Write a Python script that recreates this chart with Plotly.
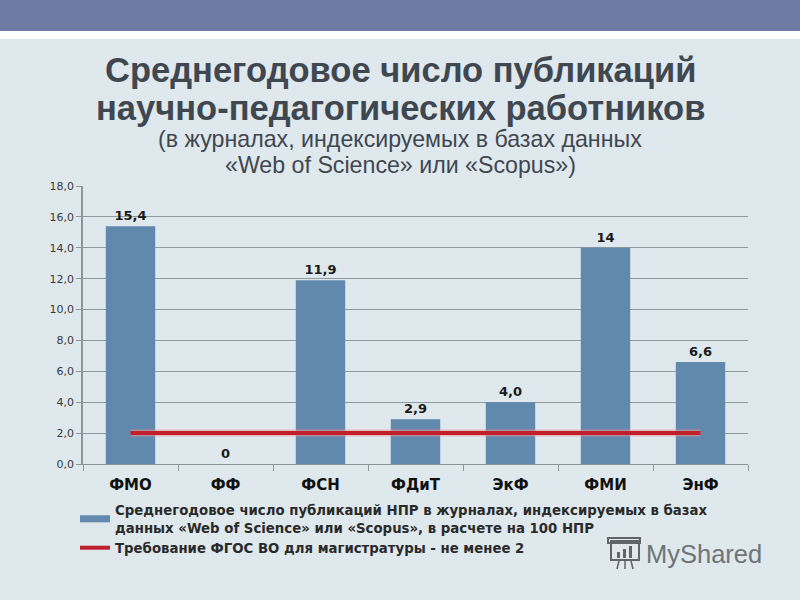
import plotly.graph_objects as go

# данные
faculties = ["ФМО", "ФФ", "ФСН", "ФДиТ", "ЭкФ", "ФМИ", "ЭнФ"]
publications = [15.4, 0, 11.9, 2.9, 4.0, 14, 6.6]
bar_labels = ["15,4", "0", "11,9", "2,9", "4,0", "14", "6,6"]
requirement = [2, 2, 2, 2, 2, 2, 2]
y_ticks = [0, 2, 4, 6, 8, 10, 12, 14, 16, 18]
y_tick_labels = ["0,0", "2,0", "4,0", "6,0", "8,0", "10,0", "12,0", "14,0", "16,0", "18,0"]

bar_name = ("<b>Среднегодовое число публикаций НПР в журналах, индексируемых в базах<br>"
            "данных «Web of Science» или «Scopus», в расчете на 100 НПР</b>")
line_name = "<b>Требование ФГОС ВО для магистратуры - не менее 2</b>"

W, H = 800, 600
L, R, T, B = 83, 52, 186, 136
BAR_COLOR = "#6089ad"
TITLE_COLOR = "#3f4750"
ICON_COLOR = "#5f6569"


def py(pixel):
    # пиксель от верха страницы -> координата paper
    return 1 - (pixel - T) / (H - T - B)


def px_(pixel):
    return (pixel - L) / (W - L - R)


def box(x0, y0, x1, y1, **style):
    return dict(type="rect", xref="paper", yref="paper", x0=px_(x0), x1=px_(x1), y0=py(y0), y1=py(y1),
                layer="below", **style)


def stroke(x0, y0, x1, y1):
    return dict(type="line", xref="paper", yref="paper", x0=px_(x0), x1=px_(x1), y0=py(y0), y1=py(y1),
                layer="below", line=dict(color=ICON_COLOR, width=1.5))


def title_line(text, y, size, x=400, color=TITLE_COLOR):
    return dict(text=text, x=px_(x), y=py(y), xref="paper", yref="paper", xanchor="center", yanchor="middle",
                showarrow=False, font=dict(size=size, family="Liberation Sans", color=color))


fig = go.Figure()
fig.add_trace(go.Bar(x=faculties, y=publications, showlegend=False, marker_color=BAR_COLOR,
                     marker_line_width=0, text=bar_labels, textposition="outside", cliponaxis=False,
                     textfont=dict(family="DejaVu Sans", size=13, color="#1a1a1a", weight="bold")))
# пустой след только ради широкой плашки в легенде
fig.add_trace(go.Scatter(x=[None], y=[None], mode="lines", name=bar_name,
                         line=dict(color=BAR_COLOR, width=7)))
fig.add_trace(go.Scatter(x=faculties, y=requirement, mode="lines", showlegend=False, hoverinfo="skip",
                         line=dict(color="rgba(240,150,150,0.55)", width=7)))
fig.add_trace(go.Scatter(x=faculties, y=requirement, mode="lines", name=line_name,
                         line=dict(color="#c0202c", width=4)))

fig.update_layout(
    width=W, height=H, margin=dict(l=L, r=R, t=T, b=B, autoexpand=False),
    paper_bgcolor="#dfe8ec", plot_bgcolor="rgba(0,0,0,0)", bargap=0.48,
    font=dict(family="DejaVu Sans", color="#333333"),
    legend=dict(x=px_(75), y=py(495), xanchor="left", yanchor="top", bgcolor="rgba(0,0,0,0)",
                font=dict(family="DejaVu Sans", size=13.3, color="#2a2a2a"),
                traceorder="normal", tracegroupgap=8, itemwidth=30),
    shapes=[
        box(0, 0, W, 31, fillcolor="#6f7aa3", line_width=0),
        box(0, 31, W, 39, fillcolor="#ffffff", line_width=0),
        # значок водяного знака
        box(611, 541, 639, 560, line=dict(color=ICON_COLOR, width=2)),
        box(608, 538, 640, 543, line=dict(color=ICON_COLOR, width=2)),
        box(617, 552, 620, 558, fillcolor=ICON_COLOR, line_width=0),
        box(623, 549, 626, 558, fillcolor=ICON_COLOR, line_width=0),
        box(629, 546, 632, 558, fillcolor=ICON_COLOR, line_width=0),
        stroke(619, 561, 617, 569),
        stroke(625, 561, 625, 569),
        stroke(631, 561, 633, 569),
    ],
    annotations=[
        title_line("<b>Среднегодовое число публикаций</b>", 70, 34.5),
        title_line("<b>научно-педагогических работников</b>", 108, 34.5),
        title_line("(в журналах, индексируемых в базах данных", 139, 23.2),
        title_line("«Web of Science» или «Scopus»)", 165, 23.2),
        title_line("MyShared", 554, 25.5, x=704, color="#6f7478"),
    ],
)

fig.update_xaxes(tickson="boundaries", ticks="outside", ticklen=6, tickcolor="#8c9699",
                 showline=True, linecolor="#8c9699", linewidth=1, showgrid=False, ticklabelstandoff=7,
                 tickfont=dict(family="DejaVu Sans", size=15, color="#111111", weight="bold"))
fig.update_yaxes(range=[0, 18], tickvals=y_ticks, ticktext=y_tick_labels, ticks="outside", ticklen=5,
                 tickcolor="#8c9699", showline=True, linecolor="#8c9699", linewidth=1.5,
                 gridcolor="#8f9a9d", gridwidth=1, zeroline=False,
                 tickfont=dict(family="DejaVu Sans", size=11, color="#3a3a3a"))

# у страницы по умолчанию отступ 8px, убираем его
fig.write_html("out.html", config={"displayModeBar": False}, post_script="document.body.style.margin='0';")
